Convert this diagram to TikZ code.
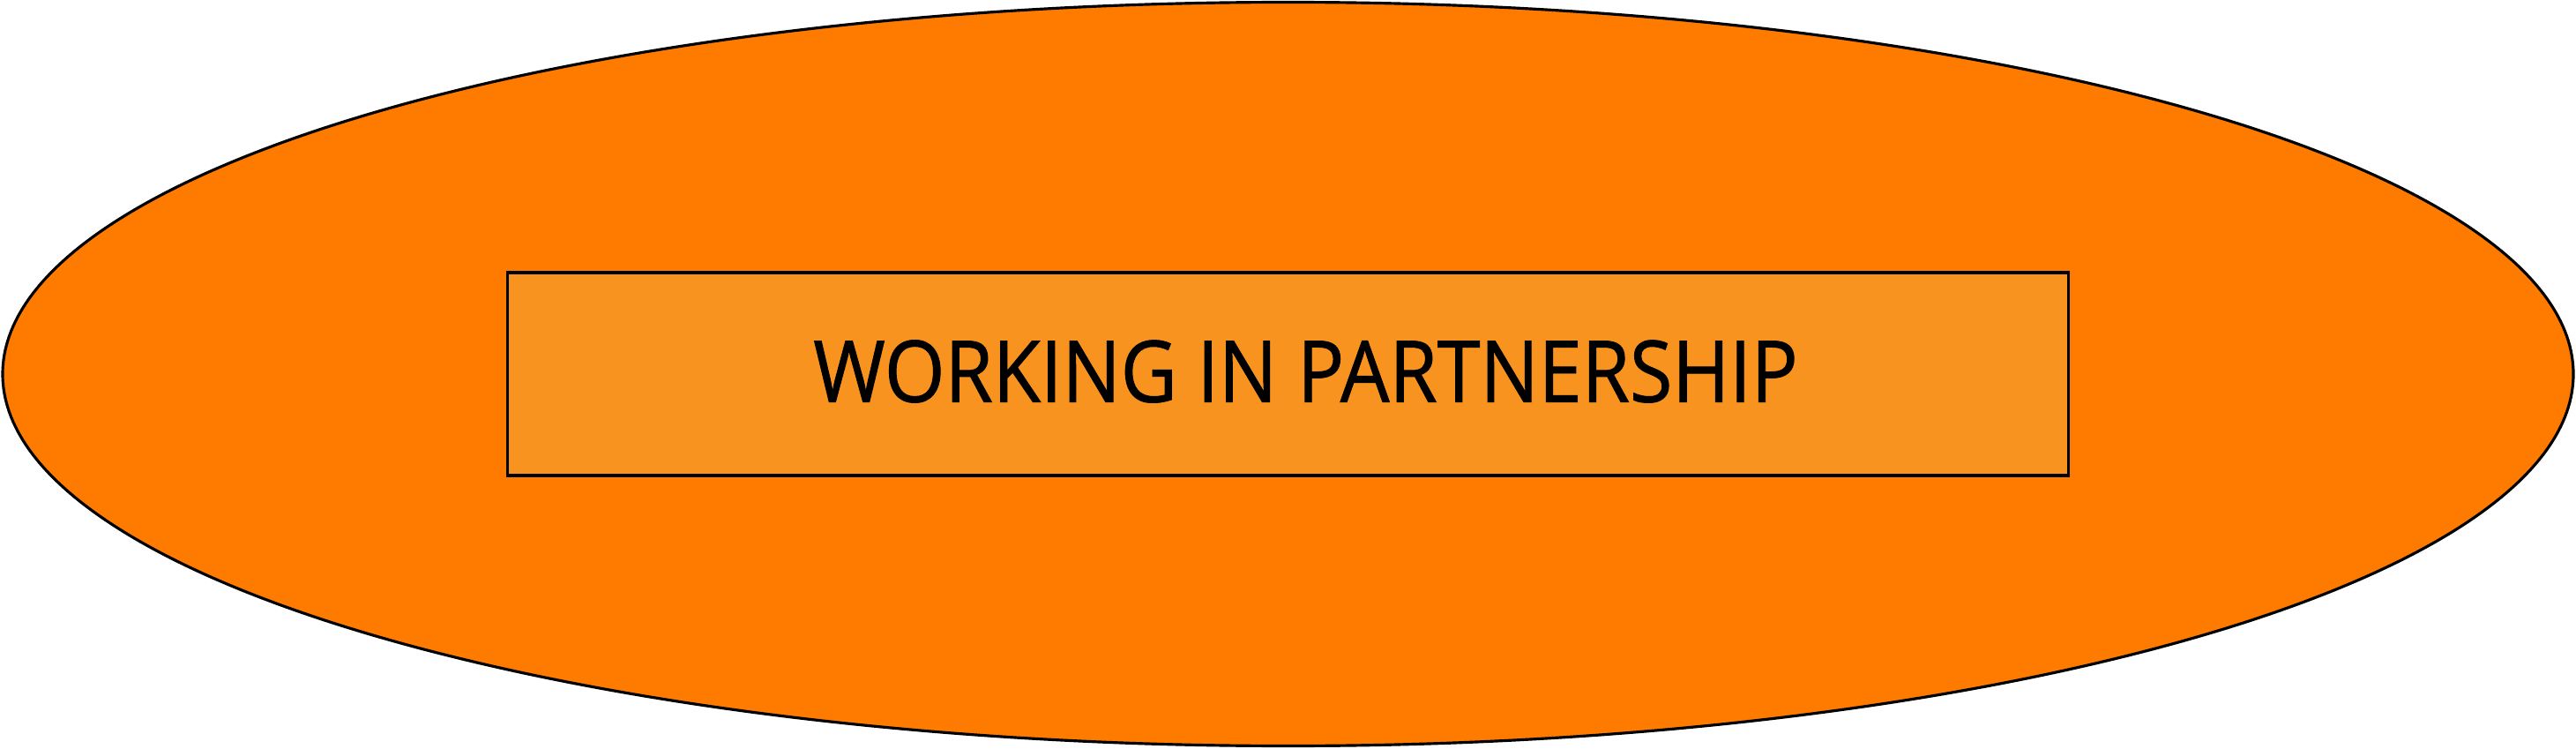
\documentclass[tikz,border=0pt]{standalone}
\usepackage{fontspec}
\usepackage{tikz}
\usetikzlibrary{shapes.geometric}
\newfontfamily\partnerfont[FakeStretch=0.91,FakeBold=1]{Open Sans}
\definecolor{outerorange}{HTML}{FF7B00}
\definecolor{boxorange}{HTML}{F7931E}

\begin{document}
\begin{tikzpicture}[thick]
  \tikzstyle{outer}=[ellipse,draw=black,line width=0.9pt,fill=outerorange,
                     minimum width=29.15cm,minimum height=8.43cm,inner sep=0pt]
  \tikzstyle{inner}=[rectangle,draw=black,line width=1.1pt,fill=boxorange,
                     minimum width=17.7cm,minimum height=2.3cm,inner sep=0pt]
  \tikzstyle{title}=[text=black,inner sep=0pt,
                     font=\partnerfont\fontsize{27.5}{33}\selectfont]

  \useasboundingbox (0,0) rectangle (29.21,8.48);

  \node[outer] (E) at (14.605,4.24) {};
  \node[inner] (B) at (E.center) {};
  \node[title] (T) [xshift=0.2cm,yshift=0.03cm] at (B.center) {WORKING IN PARTNERSHIP};
\end{tikzpicture}
\end{document}
